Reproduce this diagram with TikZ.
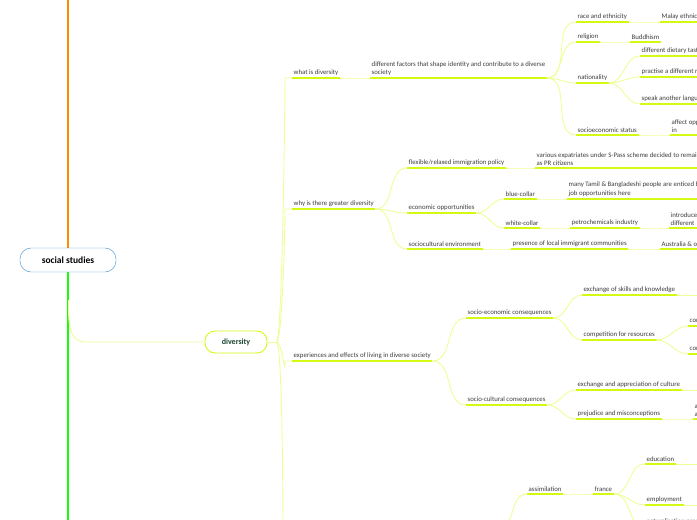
\documentclass[tikz,border=0pt]{standalone}
\usepackage{fontspec}
\setmainfont{Carlito}
\definecolor{lime}{RGB}{212,250,20}
\definecolor{lightlime}{RGB}{236,255,150}
\definecolor{txt}{RGB}{60,60,60}
\definecolor{rootblue}{RGB}{58,143,208}
\definecolor{divgreen}{RGB}{30,70,50}
\tikzset{
 lbl/.style={anchor=south west,inner xsep=1.5pt,inner ysep=2.5pt,font=\fontsize{6.8}{8.2}\selectfont,text=txt,align=left},
 ul/.style={draw=lime,line width=1.3pt},
 conn/.style={draw=lightlime,line width=0.9pt},
}
\newcommand{\tp}[4]{\node[lbl] (#1) at (#2,-#3) {#4}; \draw[ul] (#1.south west) -- (#1.south east);}
\newcommand{\cn}[2]{\draw[conn] (#1.south east) to[out=0,in=180] (#2.south west);}
\begin{document}
\begin{tikzpicture}[x=1pt,y=1pt]
\useasboundingbox (0,0) rectangle (697,-520);
\clip (0,0) rectangle (697,-520);
% root
\draw[line width=2.2pt,orange!90!yellow] (68,0) -- (68,-248);
\draw[line width=2.2pt,green!90!lime] (68,-272) -- (68,-520);
\node[draw=rootblue,rounded corners=11pt,minimum width=96pt,minimum height=24pt,font=\bfseries\fontsize{9.5}{11}\selectfont,fill=white] (root) at (68,-260) {social studies};
\node[draw=lime,line width=0.9pt,rounded corners=10pt,minimum width=62pt,minimum height=22pt,text=divgreen,font=\bfseries\fontsize{8}{9}\selectfont,fill=white] (div) at (236,-342) {diversity};
\draw[conn] (68.5,-300) to[out=-90,in=180] (85,-342) -- (div.west);
% level 1
\tp{what}{292}{78}{what is diversity}
\tp{why}{292}{209}{why is there greater diversity}
\tp{exp}{292}{361}{experiences and effects of living in diverse society}
\coordinate (low) at (283,-530);
\draw[conn] (div.east) -- ++(9,0) coordinate (bp);
\foreach \c in {what,why,exp} {\draw[conn] (bp) .. controls +(6,0) and +(0,-20) .. ([xshift=-7pt]\c.south west) -- (\c.south west);}
\draw[conn] (bp) .. controls +(6,0) and +(0,20) .. (low);
% what is diversity
\tp{dfac}{370}{78}{different factors that shape identity and contribute to a diverse\\society}
\cn{what}{dfac}
\tp{race}{576}{22}{race and ethnicity}
\tp{rel}{576}{42}{religion}
\tp{nat}{576}{83}{nationality}
\tp{ses}{576}{135}{socioeconomic status}
\foreach \c in {race,rel,nat,ses} {\cn{dfac}{\c}}
\tp{malay}{660}{22}{Malay ethnic group}\cn{race}{malay}
\tp{bud}{630}{42}{Buddhism}\cn{rel}{bud}
\tp{diet}{640}{56}{different dietary taste}
\tp{prac}{640}{77}{practise a different religion}
\tp{speak}{640}{104}{speak another language}
\foreach \c in {diet,prac,speak} {\cn{nat}{\c}}
\tp{aff}{670}{135}{affect opportunities\\in}\cn{ses}{aff}
% why
\tp{flex}{407}{168}{flexible/relaxed immigration policy}
\tp{eco}{407}{213}{economic opportunities}
\tp{soc}{407}{249}{sociocultural environment}
\foreach \c in {flex,eco,soc} {\cn{why}{\c}}
\tp{var}{535}{168}{various expatriates under S-Pass scheme decided to remain in Singapore\\as PR citizens}\cn{flex}{var}
\tp{blue}{504}{199}{blue-collar}
\tp{white}{504}{228}{white-collar}
\cn{eco}{blue}\cn{eco}{white}
\tp{tamil}{567}{199}{many Tamil \& Bangladeshi people are enticed by the\\job opportunities here}\cn{blue}{tamil}
\tp{petro}{570}{228}{petrochemicals industry}\cn{white}{petro}
\tp{intro}{669}{228}{introduces\\different}\cn{petro}{intro}
\tp{pres}{511}{249}{presence of local immigrant communities}\cn{soc}{pres}
\tp{aus}{660}{249}{Australia \& others}\cn{pres}{aus}
% experiences
\tp{secon}{466}{318}{socio-economic consequences}
\tp{scult}{466}{405}{socio-cultural consequences}
\cn{exp}{secon}\cn{exp}{scult}
\tp{exch}{582}{295}{exchange of skills and knowledge}
\tp{comp}{582}{340}{competition for resources}
\cn{secon}{exch}\cn{secon}{comp}
\draw[conn] (exch.south east) -- (697,-295);
\tp{co1}{688}{326}{competition}
\tp{co2}{688}{354}{competition}
\cn{comp}{co1}\cn{comp}{co2}
\tp{exap}{576}{390}{exchange and appreciation of culture}
\tp{prej}{576}{419}{prejudice and misconceptions}
\cn{scult}{exap}\cn{scult}{prej}
\draw[conn] (exap.south east) -- (697,-390);
\tp{pj2}{693}{419}{a\\a}\cn{prej}{pj2}
% bottom
\tp{scd}{432}{530}{socio-cultural diversity}
\tp{assim}{527}{494}{assimilation}
\cn{scd}{assim}
\tp{fr}{593}{494}{france}\cn{assim}{fr}
\tp{edu}{645}{464}{education}
\tp{emp}{645}{505}{employment}
\tp{natp}{645}{527}{naturalisation process}
\foreach \c in {edu,emp,natp} {\cn{fr}{\c}}
\draw[conn] (edu.south east) -- (697,-464);
\draw[conn] (emp.south east) -- (697,-505);
\end{tikzpicture}
\end{document}
